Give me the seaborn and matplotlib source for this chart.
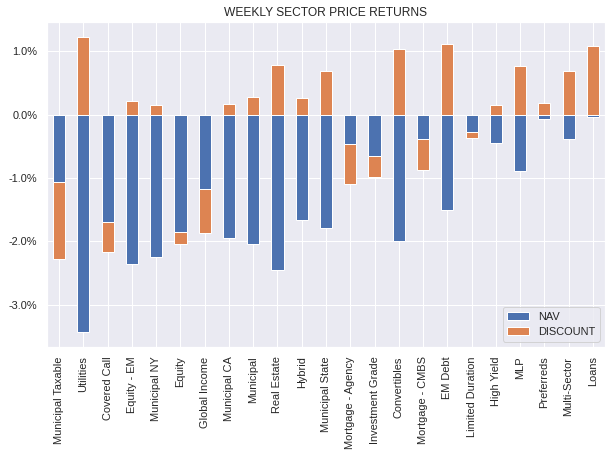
import numpy as np
import pandas as pd
import matplotlib
matplotlib.use("Agg")
import matplotlib.pyplot as plt
from matplotlib.ticker import FuncFormatter
import seaborn as sns

categories = ["Municipal Taxable", "Utilities", "Covered Call", "Equity - EM", "Municipal NY",
              "Equity", "Global Income", "Municipal CA", "Municipal", "Real Estate", "Hybrid",
              "Municipal State", "Mortgage - Agency", "Investment Grade", "Convertibles",
              "Mortgage - CMBS", "EM Debt", "Limited Duration", "High Yield", "MLP",
              "Preferreds", "Multi-Sector", "Loans"]
nav = [-1.06, -3.44, -1.69, -2.36, -2.25, -1.86, -1.18, -1.95, -2.05, -2.46, -1.67,
       -1.79, -0.46, -0.65, -2.00, -0.39, -1.51, -0.28, -0.44, -0.89, -0.06, -0.39, -0.03]
discount = [-1.22, 1.23, -0.48, 0.21, 0.16, -0.18, -0.69, 0.17, 0.28, 0.79, 0.27,
            0.69, -0.63, -0.33, 1.04, -0.49, 1.12, -0.08, 0.15, 0.77, 0.19, 0.69, 1.09]
title = "WEEKLY SECTOR PRICE RETURNS"

sns.set_theme(style="darkgrid")
plt.rcParams["font.family"] = ["Liberation Sans", "DejaVu Sans"]

df = pd.DataFrame({"sector": categories, "NAV": nav, "DISCOUNT": discount})
nav_arr = np.array(nav)
disc_arr = np.array(discount)
# pandas-style stacking: same-sign values stack, opposite-sign start at zero
disc_bottom = np.where(np.sign(disc_arr) == np.sign(nav_arr), nav_arr, 0.0)

fig = plt.figure(figsize=(616 / 72, 457 / 72), dpi=72)
ax = fig.add_axes([47 / 616, (457 - 347) / 457, (605 - 47) / 616, (347 - 22) / 457])

pal = sns.color_palette("deep")
sns.barplot(data=df, x="sector", y="NAV", color=pal[0], width=0.5, ax=ax,
            saturation=1, label="NAV", edgecolor="white", linewidth=1)
sns.barplot(data=df, x="sector", y="DISCOUNT", color=pal[1], width=0.5, ax=ax,
            saturation=1, label="DISCOUNT", bottom=disc_bottom, edgecolor="white", linewidth=1)

ax.set_xlim(-0.5, len(categories) - 0.5)
ax.set_ylim(-3.67, 1.465)
ax.set_yticks([-3, -2, -1, 0, 1])
ax.yaxis.set_major_formatter(FuncFormatter(lambda v, p: f"{v:.1f}%"))
ax.set_xlabel("")
ax.set_ylabel("")
ax.set_title(title, fontsize=12, color=".15", pad=6)
ax.tick_params(axis="x", labelrotation=90, labelsize=11)
ax.tick_params(axis="y", labelsize=11)
ax.grid(True, axis="both")
ax.legend(loc="lower right", fontsize=11)

fig.savefig("out.png", dpi=72)
